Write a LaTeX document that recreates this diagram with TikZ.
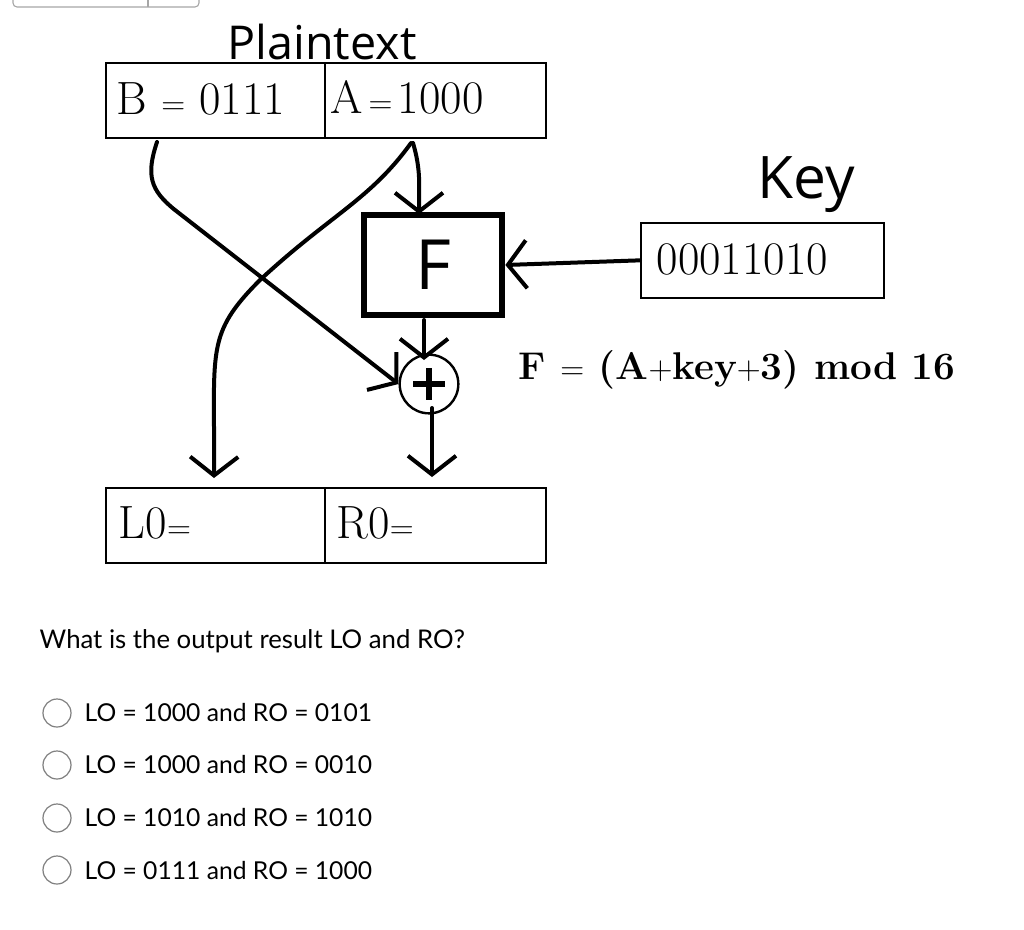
\documentclass[tikz,border=0pt]{standalone}
\usepackage{fontspec}
\newfontfamily\lato{Lato}
\newfontfamily\osans{Open Sans}
\usetikzlibrary{arrows.meta}
\begin{document}
\begin{tikzpicture}[x=0.75pt,y=-0.75pt,
  hand/.style={line width=3pt,line cap=round,line join=round,-{Straight Barb[length=14pt,width=36pt,line width=3pt]}},
  cell/.style={draw,line width=1.5pt,minimum height=56pt,inner sep=0pt},
  lm/.style={font=\fontsize{35}{35}\selectfont},
  q/.style={font=\lato\fontsize{18.5}{20}\selectfont,anchor=west},
  radio/.style={draw=gray,line width=0.9pt,circle,minimum size=21pt,inner sep=0pt}]
\useasboundingbox (0,0) rectangle (1024,929);
\fill[white] (0,0) rectangle (1024,929);
% partial toolbar box at top
\draw[gray!70,line width=0.8pt,rounded corners=3pt] (13,-10) rectangle (199,7);
\draw[gray!70,line width=0.8pt] (148,-10) -- (148,7);
% plaintext
\node[font=\osans\fontsize{35}{35}\selectfont] (pt) at (322,42) {Plaintext};
\node[cell,minimum width=164pt,anchor=north west] (B) at (105,62) {};
\node[lm,anchor=west] (Bt) at (112,99) {B $=$ 0111};
\node[cell,minimum width=166pt,anchor=north west] (A) at (324,62) {};
\node[lm,anchor=west] (At) at (326,97) {A$\,=\,$1000};
% F
\node[draw,line width=4.5pt,minimum width=104pt,minimum height=75pt,font=\osans\fontsize{52}{52}\selectfont,inner sep=0pt] (F) at (433,265) {F};
\node[draw,circle,line width=1.8pt,minimum size=44pt,inner sep=0pt] (X) at (429,384) {};
\draw[line width=4pt] (429,368) -- (429,400) (413,384) -- (445,384);
% key
\node[font=\osans\fontsize{44}{44}\selectfont] (K) at (806,185) {Key};
\node[cell,minimum width=182pt,anchor=north west] (KB) at (640,222) {};
\node[lm,anchor=west] (KBt) at (652,259) {00011010};
\node[font=\bfseries\fontsize{29}{29}\selectfont] (FF) at (737,370) {F $=$ (A$+$key$+$3) mod 16};
% bottom
\node[cell,minimum width=164pt,anchor=north west] (L) at (105,487) {};
\node[cell,minimum width=166pt,anchor=north west] (R) at (324,487) {};
\node[lm,anchor=west] (Lt) at (114,523) {L0$=$};
\node[lm,anchor=west] (Rt) at (332,523) {R0$=$};
% connectors
\coordinate (b1) at (157,142);
\coordinate (a1) at (411,143);
\coordinate (a2) at (413,143);
\draw[hand] (b1) .. controls (146,175) and (150,190) .. (175,210) -- (X.west);
\draw[hand] (a1) .. controls (370,200) and (330,215) .. (260,280) .. controls (205,335) and (215,350) .. (214,478);
\draw[hand] (a2) .. controls (421,170) and (419,185) .. (419,214);
\draw[hand] (KB.west) -- (F.east);
\draw[hand] (424,320) -- (424,360);
\draw[hand] (432,408) -- (432,477);
% question
\node[q,font=\lato\fontsize{19.3}{21}\selectfont] (qq) at (35,641) {What is the output result LO and RO?};
\foreach \y/\t [count=\i] in {713/{LO = 1000 and RO = 0101},765/{LO = 1000 and RO = 0010},818/{LO = 1010 and RO = 1010},870/{LO = 0111 and RO = 1000}}{
  \node[radio] (r\i) at (57,\y) {};
  \node[q] (o\i) at (80,\y) {\t};
}
\end{tikzpicture}
\end{document}
